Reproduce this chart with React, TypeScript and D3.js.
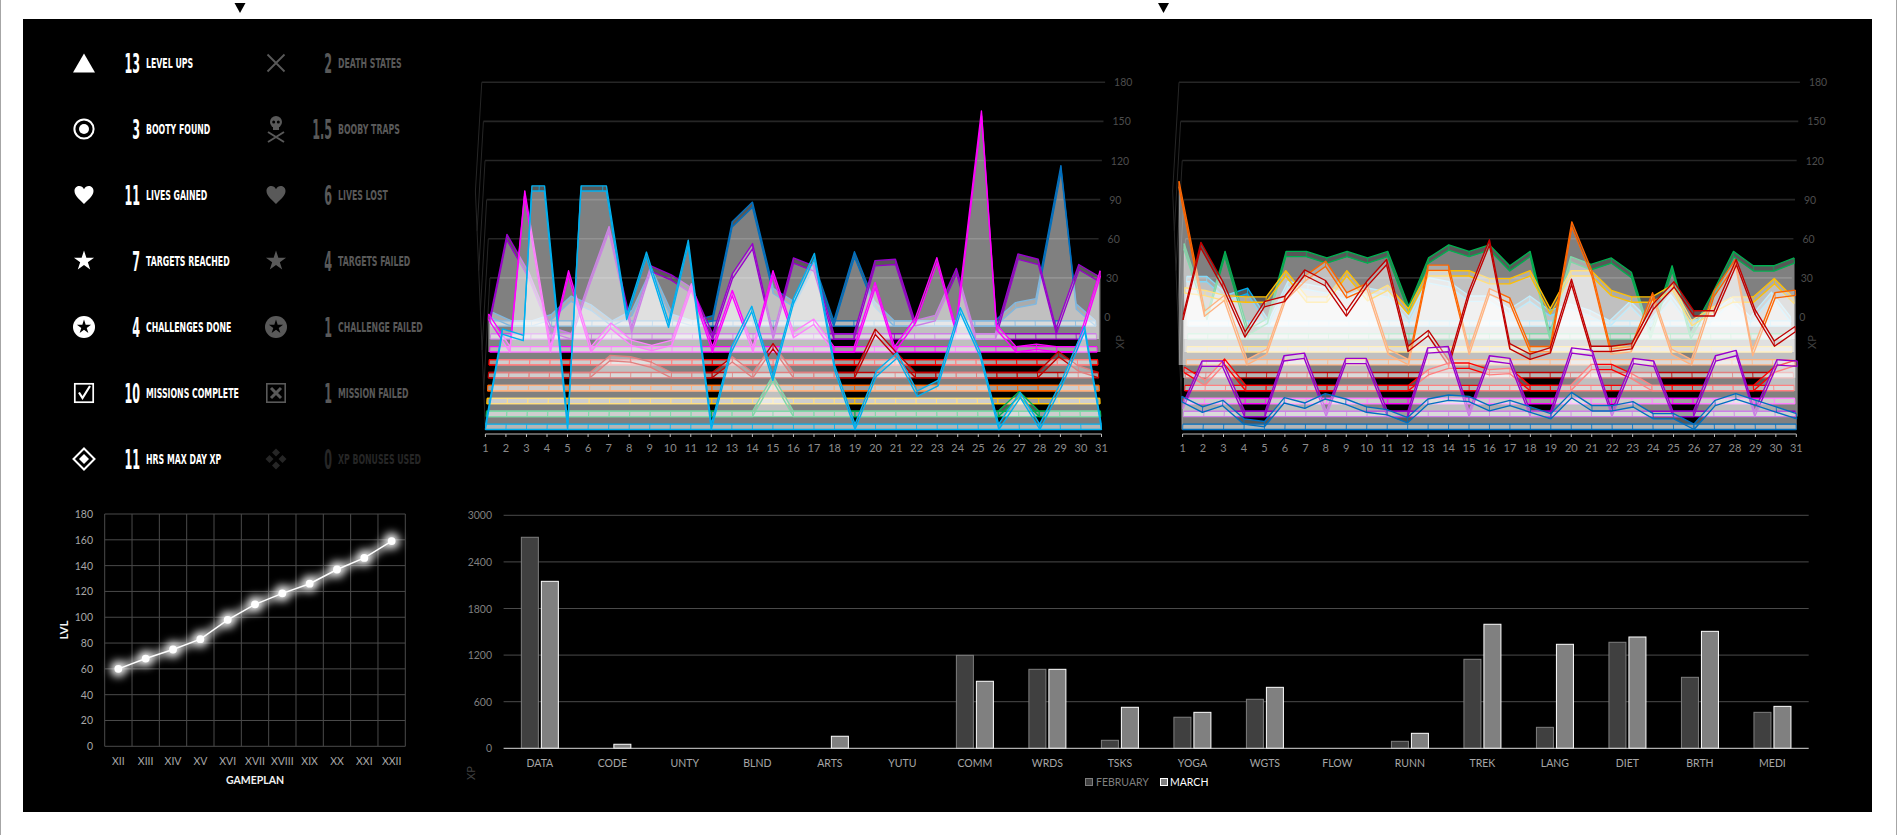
import * as d3 from 'd3';

// ---------- data ----------
const days = Array.from({ length: 31 }, (_, i) => i + 1);

// left chart, one list per ribbon
const febCyan = [0, 72, 67, 240, 0, 185, 200, 83, 130, 77, 139, 0, 58, 89, 37, 95, 129, 44, 0, 40, 54, 25, 33, 88, 55, 0, 24, 0, 33, 74, 0];
const febGreen = [0, 0, 0, 0, 0, 0, 0, 0, 0, 0, 0, 0, 0, 0, 27, 0, 0, 0, 0, 0, 0, 0, 0, 0, 0, 0, 15, 0, 0, 0, 0];
const febYellow = days.map(() => 0);
const febOrange = days.map(() => 0);
const febDarkRed = [0, 0, 0, 0, 0, 0, 13, 12, 8, 0, 0, 0, 12, 0, 22, 0, 0, 0, 0, 33, 16, 0, 0, 0, 0, 0, 0, 0, 16, 5, 0];
const febRed = days.map(() => 0);
const febMagenta = [25, 0, 119, 0, 58, 0, 18, 5, 1, 5, 48, 0, 43, 0, 58, 11, 21, 0, 0, 49, 0, 22, 68, 15, 180, 17, 0, 2, 0, 0, 58];
const febPurple = [12, 76, 47, 5, 0, 42, 82, 5, 52, 45, 35, 0, 46, 69, 0, 58, 52, 0, 0, 56, 57, 10, 14, 50, 0, 0, 61, 57, 4, 53, 44];
const febBlue = [7, 0, 0, 5, 19, 12, 0, 8, 40, 5, 0, 4, 76, 91, 25, 15, 45, 0, 53, 15, 0, 0, 0, 0, 0, 0, 14, 17, 119, 13, 0];

// right chart
const marBlue = [21, 13, 18, 4, 2, 20, 16, 23, 19, 13, 11, 5, 19, 22, 21, 14, 18, 13, 8, 24, 14, 14, 17, 8, 8, 0, 18, 23, 18, 13, 8];
const marPurple = [6, 38, 38, 0, 0, 42, 44, 0, 40, 40, 0, 0, 48, 49, 0, 42, 40, 0, 0, 48, 46, 0, 40, 38, 0, 0, 42, 46, 0, 39, 38];
const marMagenta = days.map(() => 0);
const marRed = [14, 4, 20, 0, 0, 0, 0, 0, 0, 0, 0, 0, 12, 17, 17, 12, 13, 0, 0, 0, 16, 16, 9, 0, 0, 0, 0, 0, 0, 14, 19];
const marDarkRed = [44, 99, 69, 31, 54, 58, 78, 70, 47, 69, 86, 20, 32, 9, 62, 101, 22, 14, 19, 71, 20, 20, 22, 52, 69, 47, 47, 86, 48, 24, 35];
const marOrange = [136, 37, 49, 0, 8, 49, 64, 75, 51, 58, 8, 0, 72, 72, 8, 54, 47, 10, 10, 105, 68, 8, 10, 51, 8, 0, 52, 76, 7, 51, 53];
const marYellow = [45, 43, 39, 38, 38, 58, 38, 38, 58, 39, 47, 29, 58, 58, 58, 52, 52, 58, 29, 58, 58, 43, 38, 38, 47, 20, 30, 38, 38, 52, 37];
const marGreen = [69, 15, 63, 3, 12, 63, 63, 58, 63, 58, 63, 21, 58, 68, 63, 68, 52, 63, 0, 59, 53, 58, 47, 0, 52, 0, 30, 63, 52, 52, 58];
const marCyan = [34, 34, 20, 25, 0, 30, 28, 25, 20, 25, 22, 3, 33, 30, 19, 19, 9, 19, 8, 13, 8, 0, 15, 0, 20, 0, 3, 18, 3, 22, 3];

const colCyan = '#00b0f0';
const colGreen = '#00b050';
const colYellow = '#ffc000';
const colOrange = '#ff6600';
const colDarkRed = '#c00000';
const colRed = '#ff0000';
const colMagenta = '#ff00ff';
const colPurple = '#9900cc';
const colBlue = '#0070c0';

// front ribbon first
const febRibbons: [number[], string][] = [
  [febCyan, colCyan], [febGreen, colGreen], [febYellow, colYellow], [febOrange, colOrange], [febDarkRed, colDarkRed],
  [febRed, colRed], [febMagenta, colMagenta], [febPurple, colPurple], [febBlue, colBlue],
];
const marRibbons: [number[], string][] = [
  [marBlue, colBlue], [marPurple, colPurple], [marMagenta, colMagenta], [marRed, colRed], [marDarkRed, colDarkRed],
  [marOrange, colOrange], [marYellow, colYellow], [marGreen, colGreen], [marCyan, colCyan],
];
const xpTicks = [0, 30, 60, 90, 120, 150, 180];

const plans = ['XII', 'XIII', 'XIV', 'XV', 'XVI', 'XVII', 'XVIII', 'XIX', 'XX', 'XXI', 'XXII'];
const lvlValues = [60, 68, 75, 83, 98, 110, 118.5, 126, 137, 146, 159];
const lvlTicks = [0, 20, 40, 60, 80, 100, 120, 140, 160, 180];

const skills = ['DATA', 'CODE', 'UNTY', 'BLND', 'ARTS', 'YUTU', 'COMM', 'WRDS', 'TSKS', 'YOGA', 'WGTS', 'FLOW', 'RUNN', 'TREK', 'LANG', 'DIET', 'BRTH', 'MEDI'];
const februaryXp = [2717, 0, 0, 0, 0, 0, 1197, 1017, 103, 400, 631, 0, 90, 1146, 270, 1365, 914, 463];
const marchXp = [2150, 52, 0, 0, 155, 0, 863, 1017, 528, 463, 785, 0, 193, 1597, 1339, 1433, 1506, 540];
const skillTicks = [0, 600, 1200, 1800, 2400, 3000];

const goodNumbers = ['13', '3', '11', '7', '4', '10', '11'];
const goodLabels = ['LEVEL UPS', 'BOOTY FOUND', 'LIVES GAINED', 'TARGETS REACHED', 'CHALLENGES DONE', 'MISSIONS COMPLETE', 'HRS MAX DAY XP'];
const badNumbers = ['2', '1.5', '6', '4', '1', '1', '0'];
const badLabels = ['DEATH STATES', 'BOOBY TRAPS', 'LIVES LOST', 'TARGETS FAILED', 'CHALLENGE FAILED', 'MISSION FAILED', 'XP BONUSES USED'];

// ---------- helpers ----------
const bodyFont = 'Lato, "Open Sans", sans-serif';
const narrowFont = '"Liberation Sans Narrow", "DejaVu Sans Condensed", sans-serif';
const kpiRowY = d3.scaleLinear().domain([0, 6]).range([63, 459]);

const starPath = d3.symbol().type(d3.symbolStar);
const heartPath = 'M0,9 C-3,5.5 -9.5,1.5 -9.5,-4 C-9.5,-7.5 -7,-9 -4.8,-9 C-2.8,-9 -1,-8 0,-5.8 C1,-8 2.8,-9 4.8,-9 C7,-9 9.5,-7.5 9.5,-4 C9.5,1.5 3,5.5 0,9 Z';

function Icon({ kind, cx, cy, color }: { kind: string; cx: number; cy: number; color: string }) {
  const t = `translate(${cx},${cy})`;
  switch (kind) {
    case 'triangle':
      return <path transform={t} d="M-11,9.5 L11,9.5 L0,-9.5 Z" fill={color} />;
    case 'target':
      return (
        <g transform={t}>
          <circle r={9.6} fill="none" stroke={color} strokeWidth={2} />
          <circle r={5} fill={color} />
        </g>
      );
    case 'heart':
      return <path transform={t} d={heartPath} fill={color} />;
    case 'star':
      return <path transform={t} d={starPath.size(125)() as string} fill={color} />;
    case 'circleStar':
      return (
        <g transform={t}>
          <circle r={11} fill={color} />
          <path d={starPath.size(62)() as string} fill="#000" />
        </g>
      );
    case 'check':
      return (
        <g transform={t}>
          <rect x={-9.2} y={-9.2} width={18.4} height={18.4} fill="none" stroke={color} strokeWidth={1.7} />
          <path d="M-5,-0.5 L-1.5,5 L6,-7" fill="none" stroke={color} strokeWidth={2.2} />
        </g>
      );
    case 'diamond':
      return (
        <g transform={t}>
          <path d="M0,-10.5 L10.5,0 L0,10.5 L-10.5,0 Z" fill="none" stroke={color} strokeWidth={2} />
          <path d="M0,-5 L5,0 L0,5 L-5,0 Z" fill={color} />
        </g>
      );
    case 'cross':
      return <path transform={t} d="M-8.5,-8.5 L8.5,8.5 M8.5,-8.5 L-8.5,8.5" stroke={color} strokeWidth={1.8} fill="none" />;
    case 'skull':
      return (
        <g transform={t}>
          <circle cy={-7} r={6} fill={color} />
          <rect x={-3} y={-3} width={6} height={4} fill={color} />
          <circle cx={-2.3} cy={-7} r={1.5} fill="#000" />
          <circle cx={2.3} cy={-7} r={1.5} fill="#000" />
          <path d="M-8,3 L8,13 M8,3 L-8,13" stroke={color} strokeWidth={2} fill="none" />
        </g>
      );
    case 'boxCross':
      return (
        <g transform={t}>
          <rect x={-9.2} y={-9.2} width={18.4} height={18.4} fill="none" stroke={color} strokeWidth={1.6} />
          <path d="M-5,-5 L5,5 M5,-5 L-5,5" stroke={color} strokeWidth={3} fill="none" />
        </g>
      );
    default:
      return (
        <g transform={t} fill={color}>
          {[[0, -6.5], [6.5, 0], [0, 6.5], [-6.5, 0]].map(([dx, dy], i) => (
            <path key={i} transform={`translate(${dx},${dy})`} d="M0,-4 L4,0 L0,4 L-4,0 Z" />
          ))}
        </g>
      );
  }
}

function KpiColumn({ icons, numbers, labels, iconX, numX, labelX, colors }: any) {
  return (
    <g>
      {labels.map((label: string, i: number) => {
        const y = kpiRowY(i);
        const color = colors(i);
        return (
          <g key={label}>
            <Icon kind={icons[i]} cx={iconX} cy={y} color={color} />
            <text transform={`translate(${numX},${y + 9.5}) scale(0.46,1)`} textAnchor="end" fontFamily={narrowFont} fontWeight={700} fontSize={27} fill={color}>
              {numbers[i]}
            </text>
            <text transform={`translate(${labelX},${y + 5}) scale(0.6,1)`} fontFamily={narrowFont} fontWeight={700} fontSize={14.5} fill={color}>
              {label}
            </text>
          </g>
        );
      })}
    </g>
  );
}

// ---------- 3D ribbon chart ----------
const maxXp = 180;
const depthStep = 0.1148;
const ribbonDepth = 0.0475;
const floorY = d3.scaleLinear().domain([0, 1]).range([429.5, 317]);
const unitPx = d3.scaleLinear().domain([0, 1]).range([1.325, 1.304]);

// the chart cuts anything above the axis maximum
function clipToAxis(values: number[]) {
  const out: [number, number][] = [];
  values.forEach((v, i) => {
    if (i > 0) {
      const p = values[i - 1];
      if ((p > maxXp) !== (v > maxXp)) out.push([days[i - 1] + (maxXp - p) / (v - p), maxXp]);
    }
    out.push([days[i], Math.min(v, maxXp)]);
  });
  return out;
}

function RibbonChart({ ribbons, x0, x1, titleX }: { ribbons: [number[], string][]; x0: number; x1: number; titleX: number }) {
  const xFront = d3.scaleLinear().domain([1, 31]).range([x0, x1]);
  const cx = (x0 + x1) / 2;
  const projX = (day: number, v: number, d: number) => cx + (xFront(day) - cx) * (1 - 0.02 * d) * (1 + 0.00018 * v);
  const projY = (v: number, d: number) => floorY(d) - v * unitPx(d);
  const lineAt = (d: number) =>
    d3.line<[number, number]>().x((p) => projX(p[0], p[1], d)).y((p) => projY(p[1], d));
  const areaAt = (d: number) =>
    d3.area<[number, number]>().x((p) => projX(p[0], p[1], d)).y0(floorY(d)).y1((p) => projY(p[1], d));
  const axisY = 434;

  return (
    <g>
      {xpTicks.filter((t) => t > 0).map((t) => (
        <g key={t} fill="none" stroke="#262626" strokeWidth={1.3}>
          <line x1={projX(1, t, 1)} x2={projX(31, t, 1)} y1={projY(t, 1)} y2={projY(t, 1)} strokeWidth={1.6} />
          <line x1={projX(1, t, 1)} y1={projY(t, 1)} x2={projX(1, t, 0)} y2={projY(t, 0)} strokeWidth={1} />
        </g>
      ))}
      <line x1={projX(1, 0, 0)} y1={projY(0, 0)} x2={projX(1, maxXp, 0)} y2={projY(maxXp, 0)} stroke="#262626" />
      {xpTicks.map((t) => (
        <text key={t} x={projX(31, t, 1) + 9} y={projY(t, 1) + 4} fontFamily={bodyFont} fontSize={10.5} fill="#4d4d4d">
          {t}
        </text>
      ))}
      <text transform={`translate(${titleX},342) rotate(-90)`} textAnchor="middle" fontFamily={bodyFont} fontSize={11} fill="#404040">
        XP
      </text>

      {ribbons.map((_, k) => {
        // painted back to front so the nearer fills wash out what is behind
        const i = ribbons.length - 1 - k;
        const [values, color] = ribbons[i];
        const dFront = i * depthStep;
        const dBack = dFront + ribbonDepth;
        const pts = clipToAxis(values);
        const flat = pts.map((p) => [p[0], 0] as [number, number]);
        const frontLine = lineAt(dFront)(pts) as string;
        const backLine = lineAt(dBack)(pts) as string;
        const backRev = lineAt(dBack)([...pts].reverse()) as string;
        const floorFront = lineAt(dFront)(flat) as string;
        const floorBackRev = lineAt(dBack)([...flat].reverse()) as string;
        return (
          <g key={color}>
            <path d={`${floorFront}L${floorBackRev.slice(1)}Z`} fill="rgba(255,255,255,0.42)" />
            <path d={`${frontLine}L${backRev.slice(1)}Z`} fill="rgba(255,255,255,0.34)" />
            <path d={areaAt(dFront)(pts) as string} fill="rgba(255,255,255,0.5)" />
            <g fill="none" stroke={color} strokeWidth={1.35} strokeLinejoin="round">
              <path d={floorFront} />
              <path d={floorBackRev} />
              <path d={backLine} />
              <path d={frontLine} />
              {days.map((day, j) => (
                <g key={day} strokeWidth={0.8}>
                  <line x1={projX(day, 0, dFront)} y1={projY(0, dFront)} x2={projX(day, 0, dBack)} y2={projY(0, dBack)} />
                  <line x1={projX(day, Math.min(values[j], maxXp), dFront)} y1={projY(Math.min(values[j], maxXp), dFront)} x2={projX(day, Math.min(values[j], maxXp), dBack)} y2={projY(Math.min(values[j], maxXp), dBack)} />
                </g>
              ))}
            </g>
          </g>
        );
      })}

      <line x1={x0} x2={x1} y1={axisY} y2={axisY} stroke="#bfbfbf" />
      {days.map((day) => (
        <g key={day}>
          <line x1={xFront(day)} x2={xFront(day)} y1={axisY} y2={axisY + 3} stroke="#bfbfbf" />
          <text x={xFront(day)} y={axisY + 18} textAnchor="middle" fontFamily={bodyFont} fontSize={11} fill="#8c8c8c">
            {day}
          </text>
        </g>
      ))}
    </g>
  );
}

// ---------- level line ----------
function LevelChart() {
  const x = d3.scaleBand().domain(plans).range([104.7, 405.3]);
  const y = d3.scaleLinear().domain([0, 180]).range([746.3, 514]);
  const mid = (p: string) => (x(p) as number) + x.bandwidth() / 2;
  const path = d3.line<number>().x((_, i) => mid(plans[i])).y((v) => y(v))(lvlValues) as string;
  return (
    <g>
      <defs>
        <filter id="glow" x="-20%" y="-30%" width="140%" height="160%">
          <feGaussianBlur stdDeviation="4.2" />
        </filter>
      </defs>
      {lvlTicks.map((t) => (
        <g key={t}>
          <line x1={104.7} x2={405.3} y1={y(t)} y2={y(t)} stroke="#4a4a4a" />
          <text x={93} y={y(t) + 4} textAnchor="end" fontFamily={bodyFont} fontSize={10.5} fill="#a6a6a6">
            {t}
          </text>
        </g>
      ))}
      {plans.map((p) => (
        <g key={p}>
          <line x1={x(p)} x2={x(p)} y1={514} y2={746.3} stroke="#4a4a4a" />
          <text x={mid(p)} y={765} textAnchor="middle" fontFamily={bodyFont} fontSize={10.5} fill="#a6a6a6">
            {p}
          </text>
        </g>
      ))}
      <line x1={405.3} x2={405.3} y1={514} y2={746.3} stroke="#4a4a4a" />
      <g filter="url(#glow)">
        <path d={path} fill="none" stroke="#fff" strokeWidth={7} opacity={0.75} />
        {lvlValues.map((v, i) => (
          <circle key={i} cx={mid(plans[i])} cy={y(v)} r={8} fill="#fff" />
        ))}
      </g>
      <path d={path} fill="none" stroke="#fff" strokeWidth={1.5} />
      {lvlValues.map((v, i) => (
        <circle key={i} cx={mid(plans[i])} cy={y(v)} r={3.9} fill="#fff" />
      ))}
      <text x={255} y={784} textAnchor="middle" fontFamily={bodyFont} fontWeight={700} fontSize={10.5} fill="#f2f2f2">
        GAMEPLAN
      </text>
      <text transform="translate(68,630) rotate(-90)" textAnchor="middle" fontFamily={bodyFont} fontWeight={700} fontSize={11.5} fill="#f2f2f2">
        LVL
      </text>
    </g>
  );
}

// ---------- skill bars ----------
function SkillChart() {
  const x = d3.scaleBand().domain(skills).range([503.6, 1808.7]);
  const y = d3.scaleLinear().domain([0, 3000]).range([748.3, 515.3]);
  const inner = d3.scaleBand().domain(['feb', 'mar']).range([0, x.bandwidth()]).paddingOuter(0.8875).paddingInner(0.15);
  const bottom = y(0);
  return (
    <g>
      {skillTicks.map((t) => (
        <g key={t}>
          {t > 0 && <line x1={503.6} x2={1808.7} y1={y(t)} y2={y(t)} stroke="#4a4a4a" />}
          <text x={492} y={y(t) + 4} textAnchor="end" fontFamily={bodyFont} fontSize={10.5} fill="#7f7f7f">
            {t}
          </text>
        </g>
      ))}
      {skills.map((s, i) => (
        <g key={s}>
          {februaryXp[i] > 0 && (
            <rect x={(x(s) as number) + (inner('feb') as number)} y={y(februaryXp[i])} width={inner.bandwidth()} height={bottom - y(februaryXp[i])} fill="#404040" stroke="#7f7f7f" />
          )}
          {marchXp[i] > 0 && (
            <rect x={(x(s) as number) + (inner('mar') as number)} y={y(marchXp[i])} width={inner.bandwidth()} height={bottom - y(marchXp[i])} fill="#808080" stroke="#fff" />
          )}
          <text x={(x(s) as number) + x.bandwidth() / 2} y={767} textAnchor="middle" fontFamily={bodyFont} fontSize={10.5} fill="#a6a6a6">
            {s}
          </text>
        </g>
      ))}
      <line x1={503.6} x2={1808.7} y1={bottom} y2={bottom} stroke="#d9d9d9" />
      <text transform="translate(475,773) rotate(-90)" textAnchor="middle" fontFamily={bodyFont} fontSize={11} fill="#404040">
        XP
      </text>
      <rect x={1085.5} y={778.5} width={7} height={7} fill="#404040" stroke="#7f7f7f" />
      <text x={1096} y={786} fontFamily={bodyFont} fontSize={10.5} fill="#7f7f7f">
        FEBRUARY
      </text>
      <rect x={1160.5} y={778.5} width={7} height={7} fill="#808080" stroke="#fff" />
      <text x={1170} y={786} fontFamily={bodyFont} fontSize={10.5} fill="#fff">
        MARCH
      </text>
    </g>
  );
}

export default function App() {
  return (
    <svg width={1898} height={835} style={{ position: 'absolute', left: 0, top: 0, display: 'block', background: '#fff' }}>
      <rect x={0} y={0} width={1} height={835} fill="#a6a6a6" />
      <rect x={1896} y={0} width={1} height={835} fill="#a6a6a6" />
      <rect x={23} y={19} width={1849} height={793} fill="#000" />
      <path d="M234.5,3 L245.5,3 L240,13 Z" fill="#000" />
      <path d="M1158,3 L1169,3 L1163.5,13 Z" fill="#000" />

      <KpiColumn
        icons={['triangle', 'target', 'heart', 'star', 'circleStar', 'check', 'diamond']}
        numbers={goodNumbers}
        labels={goodLabels}
        iconX={84}
        numX={140}
        labelX={146}
        colors={() => '#fff'}
      />
      <KpiColumn
        icons={['cross', 'skull', 'heart', 'star', 'circleStar', 'boxCross', 'dots']}
        numbers={badNumbers}
        labels={badLabels}
        iconX={276}
        numX={332}
        labelX={338}
        colors={(i: number) => (i === 6 ? '#262626' : '#595959')}
      />

      <RibbonChart ribbons={febRibbons} x0={485.4} x1={1101.5} titleX={1124} />
      <RibbonChart ribbons={marRibbons} x0={1182.6} x1={1796.3} titleX={1816} />
      <LevelChart />
      <SkillChart />
    </svg>
  );
}
